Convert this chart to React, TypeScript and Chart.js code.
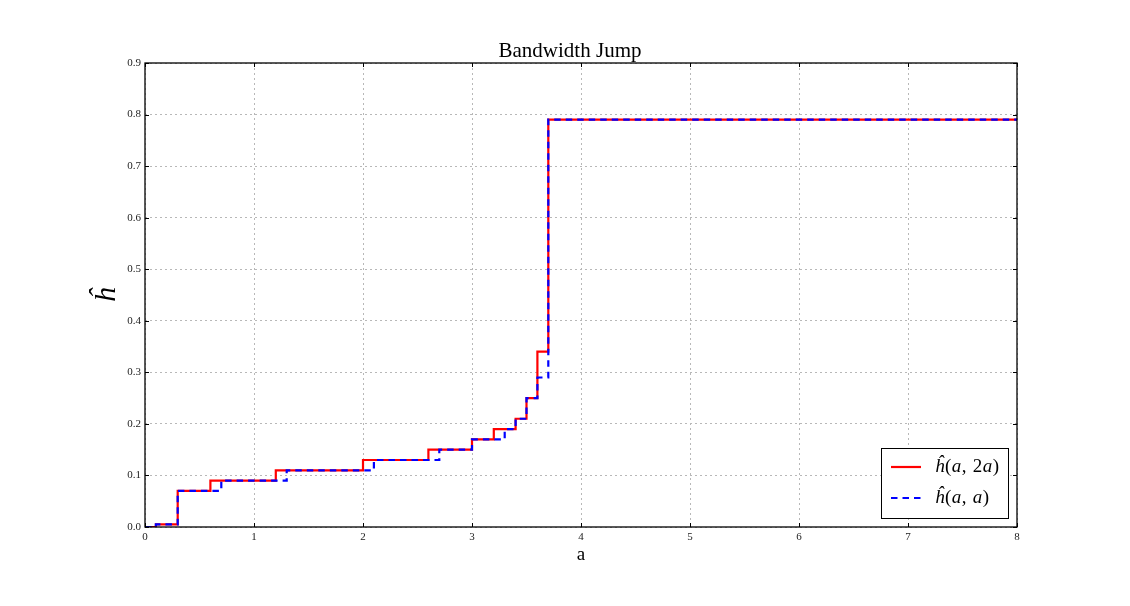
import React, { useEffect, useRef } from 'react';
import { Chart, registerables } from 'chart.js';

Chart.register(...registerables);

// ---- data ----
const redX = [0, 0.1, 0.3, 0.6, 1.2, 2.0, 2.6, 3.0, 3.2, 3.4, 3.5, 3.6, 3.7, 8.0];
const redY = [0, 0.005, 0.07, 0.09, 0.11, 0.13, 0.15, 0.17, 0.19, 0.21, 0.25, 0.34, 0.79, 0.79];
const blueX = [0, 0.1, 0.3, 0.7, 1.3, 2.1, 2.7, 3.0, 3.3, 3.4, 3.5, 3.6, 3.7, 8.0];
const blueY = [0, 0.005, 0.07, 0.09, 0.11, 0.13, 0.15, 0.17, 0.19, 0.21, 0.25, 0.29, 0.79, 0.79];
const seriesLabels = ['ĥ(a, 2a)', 'ĥ(a, a)'];
const chartTitle = 'Bandwidth Jump';
const xTitle = 'a';
const yTitle = 'ĥ';
const xTickValues = [0, 1, 2, 3, 4, 5, 6, 7, 8];
const yTickValues = [0, 0.1, 0.2, 0.3, 0.4, 0.5, 0.6, 0.7, 0.8, 0.9];

const SERIF = "'Liberation Serif', 'DejaVu Serif', serif";
const W = 1130;
const H = 606;

const framePlugin = {
  id: 'frame',
  afterDatasetsDraw(chart: any) {
    const { ctx, chartArea: a, scales } = chart;
    ctx.save();
    ctx.strokeStyle = '#000';
    ctx.lineWidth = 1;
    ctx.beginPath();
    scales.x.ticks.forEach((t: any) => {
      const px = Math.round(scales.x.getPixelForValue(t.value)) + 0.5;
      ctx.moveTo(px, a.bottom);
      ctx.lineTo(px, a.bottom - 4);
      ctx.moveTo(px, a.top);
      ctx.lineTo(px, a.top + 4);
    });
    scales.y.ticks.forEach((t: any) => {
      const py = Math.round(scales.y.getPixelForValue(t.value)) + 0.5;
      ctx.moveTo(a.left, py);
      ctx.lineTo(a.left + 4, py);
      ctx.moveTo(a.right, py);
      ctx.lineTo(a.right - 4, py);
    });
    ctx.stroke();
    ctx.lineWidth = 1.3;
    ctx.strokeRect(a.left, a.top, a.right - a.left, a.bottom - a.top);
    ctx.restore();
  },
};

const titlePlugin = {
  id: 'plotTitle',
  afterDraw(chart: any) {
    const { ctx } = chart;
    ctx.save();
    ctx.fillStyle = '#000';
    ctx.font = `21px ${SERIF}`;
    ctx.textAlign = 'center';
    ctx.textBaseline = 'alphabetic';
    ctx.fillText(chartTitle, chart.width / 2 + 5, 57);
    ctx.restore();
  },
};

function drawMathText(ctx: CanvasRenderingContext2D, text: string, x: number, y: number, size: number) {
  let cx = x;
  for (const ch of text) {
    const italic = /[a-zĥ]/.test(ch);
    ctx.font = `${italic ? 'italic ' : ''}${size}px ${SERIF}`;
    ctx.fillText(ch, cx, y);
    cx += ctx.measureText(ch).width + (ch === ',' ? 1 : 0.5);
  }
}

const legendPlugin = {
  id: 'boxLegend',
  afterDraw(chart: any) {
    const { ctx, chartArea: a } = chart;
    const bw = 127;
    const bh = 70;
    const right = a.right - 9;
    const bottom = a.bottom - 9;
    const left = right - bw;
    const top = bottom - bh;
    ctx.save();
    ctx.fillStyle = '#fff';
    ctx.fillRect(left, top, bw, bh);
    ctx.strokeStyle = '#000';
    ctx.lineWidth = 1;
    ctx.strokeRect(Math.round(left) + 0.5, Math.round(top) + 0.5, bw, bh);
    chart.data.datasets.forEach((ds: any, i: number) => {
      const cy = top + 19 + i * 31;
      ctx.beginPath();
      ctx.strokeStyle = ds.borderColor;
      ctx.lineWidth = ds.borderWidth;
      ctx.setLineDash(ds.borderDash || []);
      ctx.moveTo(left + 10, cy);
      ctx.lineTo(left + 40, cy);
      ctx.stroke();
      ctx.setLineDash([]);
      ctx.fillStyle = '#000';
      ctx.textBaseline = 'middle';
      ctx.textAlign = 'left';
      drawMathText(ctx, ds.label, left + 54, cy, 19);
    });
    ctx.restore();
  },
};

export default function App() {
  const ref = useRef<HTMLCanvasElement | null>(null);

  useEffect(() => {
    if (!ref.current) return;
    const chart = new Chart(ref.current, {
      type: 'line',
      data: {
        datasets: [
          {
            label: seriesLabels[0],
            data: redX.map((x, i) => ({ x, y: redY[i] })),
            borderColor: '#ff0000',
            borderWidth: 2.2,
            stepped: 'before',
            pointRadius: 0,
            fill: false,
            order: 2,
          },
          {
            label: seriesLabels[1],
            data: blueX.map((x, i) => ({ x, y: blueY[i] })),
            borderColor: '#0000ff',
            borderWidth: 2.2,
            borderDash: [6.5, 5],
            stepped: 'before',
            pointRadius: 0,
            fill: false,
            order: 1,
          },
        ],
      },
      options: {
        animation: false,
        responsive: false,
        devicePixelRatio: 1,
        layout: { padding: { left: 0, right: W - 1017, top: 63, bottom: 0 } },
        plugins: {
          legend: { display: false },
          tooltip: { enabled: false },
          title: { display: false },
        },
        scales: {
          x: {
            type: 'linear',
            min: 0,
            max: 8,
            afterBuildTicks: (s: any) => {
              s.ticks = xTickValues.map((v) => ({ value: v }));
            },
            afterFit: (s: any) => {
              s.height = H - 527;
            },
            ticks: {
              color: '#222',
              font: { family: SERIF, size: 11 },
              padding: 4,
              maxRotation: 0,
              callback: (v: any) => String(v),
            },
            grid: { color: '#b8b8b8', lineWidth: 1, drawTicks: false },
            border: { display: false, dash: [2, 3] },
            title: {
              display: true,
              text: xTitle,
              color: '#000',
              font: { family: SERIF, size: 19 },
              padding: { top: 0, bottom: 40 },
            },
          },
          y: {
            type: 'linear',
            min: 0,
            max: 0.9,
            afterBuildTicks: (s: any) => {
              s.ticks = yTickValues.map((v) => ({ value: v }));
            },
            afterFit: (s: any) => {
              s.width = 145;
            },
            ticks: {
              color: '#222',
              font: { family: SERIF, size: 11 },
              padding: 4,
              callback: (v: any) => Number(v).toFixed(1),
            },
            grid: { color: '#b8b8b8', lineWidth: 1, drawTicks: false },
            border: { display: false, dash: [2, 3] },
            title: {
              display: true,
              text: yTitle,
              color: '#000',
              font: { family: SERIF, size: 30, style: 'italic' },
              padding: { top: 89, bottom: 0 },
            },
          },
        },
      },
      plugins: [framePlugin, legendPlugin, titlePlugin],
    } as any);
    return () => chart.destroy();
  }, []);

  return (
    <div style={{ position: 'absolute', left: 0, top: 0, width: W, height: H, background: '#fff' }}>
      <canvas ref={ref} width={W} height={H} style={{ display: 'block', width: W, height: H }} />
    </div>
  );
}
